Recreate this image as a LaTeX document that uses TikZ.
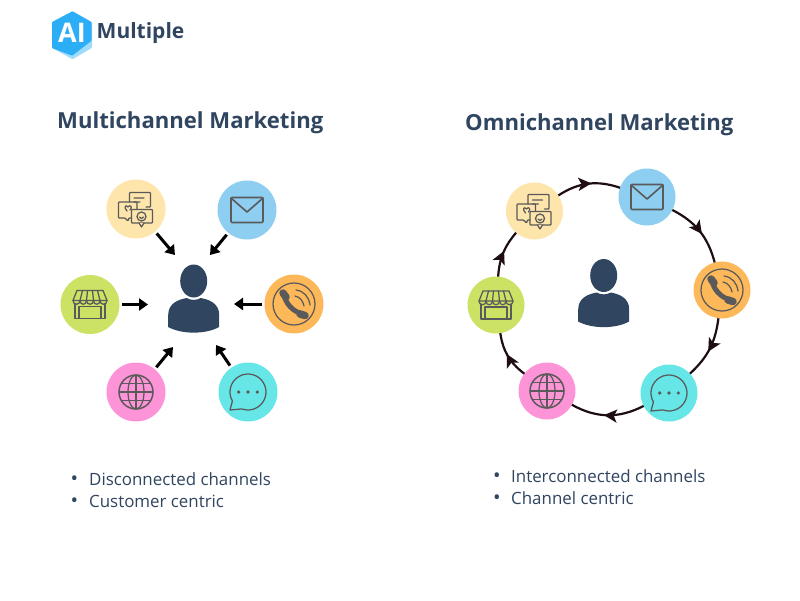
\documentclass[tikz,border=0pt]{standalone}
\usepackage{fontspec}
\setmainfont{Open Sans}
\usetikzlibrary{arrows.meta,decorations.markings}
\definecolor{ink}{HTML}{2F4560}
\definecolor{icon}{HTML}{5A5A5A}
\definecolor{cyellow}{HTML}{FEE5AC}
\definecolor{cblue}{HTML}{8ECEF0}
\definecolor{cgreen}{HTML}{CBE264}
\definecolor{corange}{HTML}{FDB85A}
\definecolor{cpink}{HTML}{FE94D8}
\definecolor{ccyan}{HTML}{67E6E8}
\definecolor{logoblue}{HTML}{2BAEF6}
\definecolor{ringc}{HTML}{1E0E14}
\tikzset{
  x=1pt,y=-1pt,
  disc/.style={circle,inner sep=0,minimum size=59pt,outer sep=0pt},
  discL/.style={disc,outer sep=2.5pt},
  discR/.style={disc,minimum size=57pt},
  titletext/.style={anchor=west,inner sep=0,text=ink,font=\fontsize{22.1}{26}\selectfont\bfseries},
  bodytext/.style={anchor=west,inner sep=0,text=ink,font=\fontsize{16.9}{20}\selectfont},
  bullettext/.style={inner sep=0,text=ink,font=\fontsize{20}{20}\selectfont},
  spoke/.style={line width=3pt,black,-{Triangle[length=9pt,width=12pt]}},
  ringarrow/.style={line width=2.2pt,ringc,postaction={decorate},decoration={markings,
    mark=at position #1 with {\arrow{Stealth[length=13pt,width=13pt,inset=3pt]}}}},
  ico/.style={draw=icon,line width=1.25pt,line join=round,line cap=round,fill=none},
  pics/envelope/.style={code={
    \draw[ico,rounded corners=1pt,line width=1.6pt] (-16,-12.5) rectangle (16,12.5);
    \draw[ico,line width=1.6pt] (-16,-12) -- (0,2) -- (16,-12);}},
  pics/chats/.style={code={
    \draw[ico,rounded corners=0.8pt] (-6.5,-7) -- (-6.5,-16.5) -- (14.5,-16.5) -- (14.5,-2) -- (10,-2) (-2,-11) -- (8,-11) (-2,-7) -- (4,-7);
    \draw[ico,rounded corners=0.8pt] (-4.5,9) -- (-7,9) -- (-8,12) -- (-11,9) -- (-17.5,9) -- (-17.5,-7) -- (1,-7) -- (1,0);
    \draw[ico] (-9,2) .. controls (-13,-2) and (-10,-5) .. (-8,-2) .. controls (-6,-5) and (-3,-2) .. (-6,1);
    \draw[ico,rounded corners=0.8pt] (-4.5,0.5) rectangle (16.5,14);
    \draw[ico,fill=cyellow] (3,14) -- (5.5,18) -- (8,14);
    \draw[ico] (5.5,7.5) circle (4.5pt);
    \draw[ico] (3.5,8) .. controls (4.5,10) and (6.5,10) .. (7.5,8);}},
  pics/store/.style={code={
    \draw[ico] (-13,-14) -- (13,-14) -- (17,-4) -- (-17,-4) -- cycle;
    \foreach \a/\b in {-7.5/-10,-2.5/-3.5,2.5/3.5,7.5/10}{\draw[ico] (\a,-14) -- (\b,-4);}
    \foreach \l/\r in {-17/-10,-10/-3.5,-3.5/3.5,3.5/10,10/17}{
      \draw[ico] (\l,-4) .. controls (\l,1) and (\r,1) .. (\r,-4);}
    \draw[ico] (-15,-1) -- (-15,14) -- (15,14) -- (15,-1);
    \draw[ico] (-11,2) rectangle (11,14);}},
  pics/phone/.style={code={
    \draw[ico] (0,0) circle (21pt);
    \draw[icon,line width=5pt,line cap=round] (-10,-10) .. controls (-9,-1) and (-1,8) .. (9,10);
    \draw[icon,line width=7.5pt,line cap=round] (-11,-11) -- (-8,-7) (6,10) -- (11,11.5);
    \draw[ico] (1,-8) .. controls (6,-7) and (9,-3) .. (10,2);
    \draw[ico] (2,-14) .. controls (10,-13) and (15,-7) .. (16,1);}},
  pics/globe/.style={code={
    \draw[ico,line width=1.5pt] (0,0) circle (17pt);
    \draw[ico] (0,0) ellipse [x radius=8pt,y radius=17pt];
    \draw[ico] (0,-17) -- (0,17) (-17,0) -- (17,0);
    \draw[ico] (-14.5,-8.5) -- (14.5,-8.5) (-14.5,8.5) -- (14.5,8.5);}},
  pics/speech/.style={code={
    \draw[ico] (-15.6,9) arc [start angle=210,end angle=-110,radius=18pt] -- (-18,18) -- cycle;
    \foreach \d in {-9.3,0,9.3}{\fill[icon] (\d,0) circle (1.8pt);}}},
  pics/person/.style={code={
    \fill[ink] (0,-16) ellipse [x radius=13.5pt,y radius=16.5pt];
    \fill[ink] (-7,1) .. controls (-3,3.5) and (3,3.5) .. (7,1) .. controls (15,2.5) and (25.5,6) .. (25.5,18)
      -- (25.5,30) .. controls (12,37.5) and (-12,37.5) .. (-25.5,30) -- (-25.5,18)
      .. controls (-25.5,6) and (-15,2.5) .. (-7,1) -- cycle;}},
}
\begin{document}
\begin{tikzpicture}
\useasboundingbox (0,0) rectangle (800,600);
\fill[white] (0,0) rectangle (800,600);
% logo
\path[fill=logoblue!45,draw=logoblue!45,line width=3pt,line join=round] (72.5,13) -- (90.5,23) -- (90.5,47) -- (72.5,57.5) -- (53.5,47) -- (53.5,23) -- cycle;
\path[fill=logoblue,draw=logoblue,line width=3pt,line join=round] (72.5,13) -- (90,23) -- (90,40) -- (72,54) -- (53.5,47) -- (53.5,23) -- cycle;
\node[inner sep=0,text=white,font=\fontsize{27}{28}\selectfont\bfseries] (logoai) at (72,33) {AI};
\node[anchor=west,inner sep=0,text=ink,font=\fontsize{21}{26}\selectfont\bfseries] (logotext) at (96.5,33.5) {Multiple};
% titles
\node[titletext] (titleL) at (57,123) {Multichannel Marketing};
\node[titletext] (titleR) at (465,125) {Omnichannel Marketing};
% left diagram
\pic at (193.7,297) {person};
\coordinate (tipA) at (175,255);
\coordinate (tipB) at (210,255);
\coordinate (tipC) at (148,304.5);
\coordinate (tipD) at (234,304);
\coordinate (tipE) at (173,347);
\coordinate (tipF) at (216,345);
\node[discL,fill=cyellow] (Lchat) at (136,209) {};
\node[discL,fill=cblue] (Lmail) at (247,210) {};
\node[discL,fill=cgreen] (Lstore) at (90,304.5) {};
\node[discL,fill=corange] (Lphone) at (294,304) {};
\node[discL,fill=cpink] (Lweb) at (136,392) {};
\node[discL,fill=ccyan] (Lsms) at (248,392) {};
\pic at (Lchat) {chats};
\pic at (Lmail) {envelope};
\pic at (Lstore) {store};
\pic at (Lphone) {phone};
\pic at (Lweb) {globe};
\pic at (Lsms) {speech};
\draw[spoke] (Lchat) -- (tipA);
\draw[spoke] (Lmail) -- (tipB);
\draw[spoke] (Lstore) -- (tipC);
\draw[spoke] (Lphone) -- (tipD);
\draw[spoke] (Lweb) -- (tipE);
\draw[spoke] (Lsms) -- (tipF);
% right diagram
\pic at (603.7,291.5) {person};
\node[discR,fill=cyellow] (Rchat) at (534.5,211) {};
\node[discR,fill=cblue] (Rmail) at (647,197) {};
\node[discR,fill=cgreen] (Rstore) at (496,305) {};
\node[discR,fill=corange] (Rphone) at (722,290) {};
\node[discR,fill=cpink] (Rweb) at (547,391) {};
\node[discR,fill=ccyan] (Rsms) at (669,393) {};
\pic at (Rchat) {chats};
\pic at (Rmail) {envelope};
\pic at (Rstore) {store};
\pic at (Rphone) {phone};
\pic at (Rweb) {globe};
\pic at (Rsms) {speech};
\draw[ringarrow=0.55] (Rchat) to[bend left=26] (Rmail);
\draw[ringarrow=0.55] (Rmail) to[bend left=24] (Rphone);
\draw[ringarrow=0.55] (Rphone) to[bend left=20] (Rsms);
\draw[ringarrow=0.55] (Rsms) to[bend left=28] (Rweb);
\draw[ringarrow=0.55] (Rweb) to[bend left=22] (Rstore);
\draw[ringarrow=0.55] (Rstore) to[bend left=18] (Rchat);
% bullets
\node[bullettext] (b1) at (74.5,481) {•};
\node[bullettext] (b2) at (74.5,503) {•};
\node[bullettext] (b3) at (497,478) {•};
\node[bullettext] (b4) at (497,500) {•};
\node[bodytext] (t1) at (89,479) {Disconnected channels};
\node[bodytext] (t2) at (89,501) {Customer centric};
\node[bodytext] (t3) at (511,476) {Interconnected channels};
\node[bodytext] (t4) at (511,498) {Channel centric};
\end{tikzpicture}
\end{document}
